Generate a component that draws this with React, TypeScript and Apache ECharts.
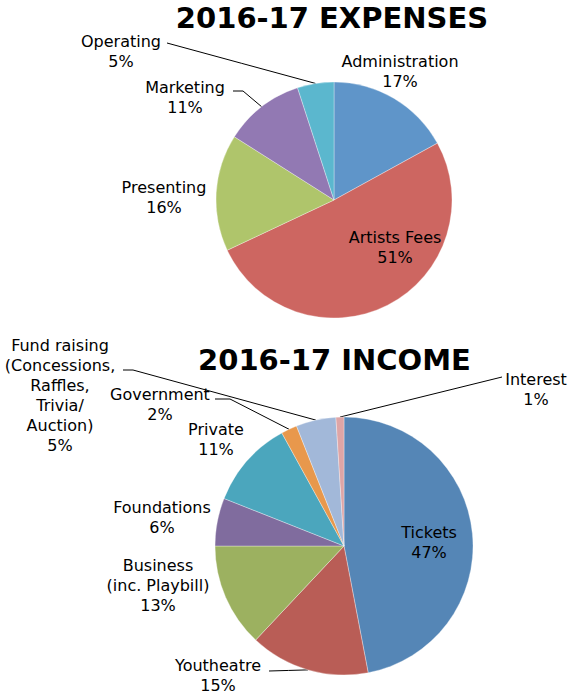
import * as echarts from 'echarts';
import React, { useEffect, useRef } from 'react';

// 지출 (expenses)
const expenseNames = ['Administration', 'Artists Fees', 'Presenting', 'Marketing', 'Operating'];
const expenseValues = [17, 51, 16, 11, 5];
const expenseColors = ['#5f95c9', '#cd6661', '#afc56b', '#9279b3', '#5bb7ce'];

// 수입 (income)
const incomeNames = [
  'Tickets',
  'Youtheatre',
  'Business\n(inc. Playbill)',
  'Foundations',
  'Private',
  'Government',
  'Fund raising\n(Concessions,\nRaffles,\nTrivia/\nAuction)',
  'Interest',
];
const incomeValues = [47, 15, 13, 6, 11, 2, 5, 1];
const incomeColors = ['#5586b6', '#b95d56', '#9cb160', '#806c9e', '#4ba6bd', '#e8984c', '#a2b8d9', '#dea5a6'];

// label anchor: [center x, top y]
const expenseLabelAt = [[400, 51.5], [395, 227.5], [164, 177.5], [185, 77.5], [121, 31.5]];
const expenseLeaders: (number[][] | null)[] = [null, null, null, [[243, 91], [233, 91]], [[167, 43]]];

const incomeLabelAt = [
  [429, 522.5],
  [218, 655.5],
  [158, 555.5],
  [162, 497.5],
  [216, 419.5],
  [160, 384.5],
  [60, 335.5],
  [536, 369.5],
];
const incomeLeaders: (number[][] | null)[] = [
  null,
  [[269, 671]],
  null,
  null,
  null,
  [[230, 399], [215, 399]],
  [[133, 370], [123, 370]],
  [[502, 377]],
];

const labelFont = {
  color: '#000',
  fontFamily: 'DejaVu Sans',
  fontSize: 16,
  lineHeight: 20,
};

const makePie = (
  names: string[],
  values: number[],
  colors: string[],
  labelAt: number[][],
  leaders: (number[][] | null)[],
  center: number[],
  radius: number,
) => ({
  type: 'pie',
  center,
  radius,
  startAngle: 90,
  clockwise: true,
  avoidLabelOverlap: false,
  silent: true,
  itemStyle: {
    borderColor: 'rgba(255,255,255,0.55)',
    borderWidth: 0.6,
  },
  label: {
    show: true,
    position: 'outside',
    formatter: '{b}\n{c}%',
    align: 'center',
    ...labelFont,
  },
  labelLine: {
    show: true,
    lineStyle: { color: '#000', width: 1 },
  },
  labelLayout: (params: any) => {
    const i = params.dataIndex;
    const out: any = {
      x: labelAt[i][0],
      y: labelAt[i][1],
      align: 'center',
      verticalAlign: 'top',
    };
    const lead = leaders[i];
    if (lead && params.labelLinePoints) {
      const edge = params.labelLinePoints[0];
      const pts = [edge, ...lead];
      if (pts.length === 2) {
        pts.splice(1, 0, [(edge[0] + lead[0][0]) / 2, (edge[1] + lead[0][1]) / 2]);
      }
      out.labelLinePoints = pts;
    }
    return out;
  },
  data: names.map((name, i) => ({
    name,
    value: values[i],
    itemStyle: { color: colors[i] },
    labelLine: { show: !!leaders[i] },
  })),
});

const App = () => {
  const chartRef = useRef<HTMLDivElement>(null);

  useEffect(() => {
    if (!chartRef.current) return;
    const chart = echarts.init(chartRef.current, undefined, { renderer: 'svg' });

    const titleStyle = {
      color: '#000',
      fontFamily: 'DejaVu Sans',
      fontWeight: 'bold' as const,
      fontSize: 29,
      lineHeight: 30,
    };

    chart.setOption({
      animation: false,
      backgroundColor: '#fff',
      title: [
        { text: '2016-17 EXPENSES', left: 332, top: 3, textAlign: 'center', padding: 0, textStyle: titleStyle },
        { text: '2016-17 INCOME', left: 334.5, top: 345, textAlign: 'center', padding: 0, textStyle: titleStyle },
      ],
      series: [
        makePie(expenseNames, expenseValues, expenseColors, expenseLabelAt, expenseLeaders, [334, 200], 118),
        makePie(incomeNames, incomeValues, incomeColors, incomeLabelAt, incomeLeaders, [344, 546], 129),
      ],
    });

    return () => {
      chart.dispose();
    };
  }, []);

  return (
    <div
      ref={chartRef}
      style={{ position: 'absolute', left: 0, top: 0, width: '573px', height: '700px' }}
    />
  );
};

export default App;
